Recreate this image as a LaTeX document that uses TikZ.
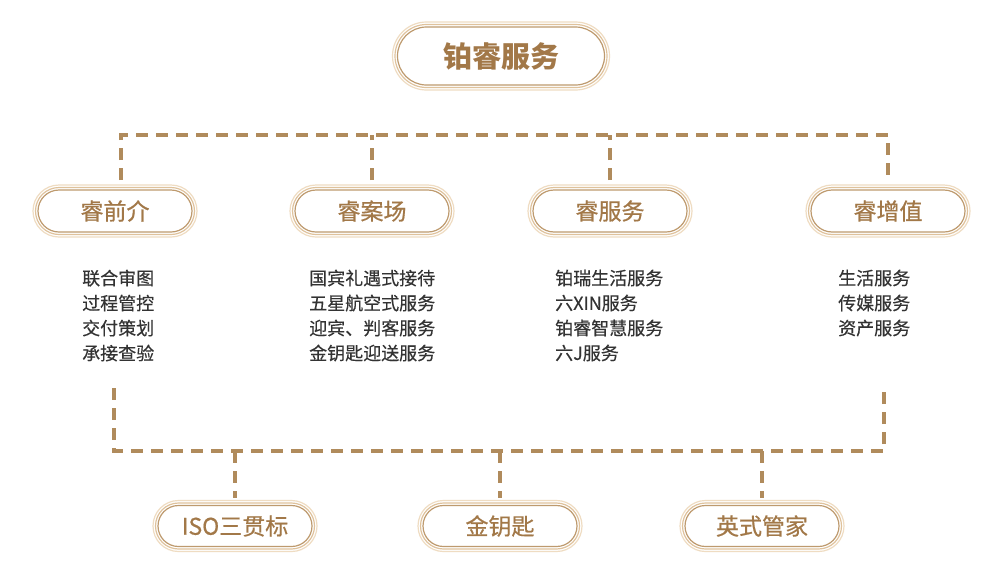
\documentclass[tikz,border=0pt]{standalone}
\usepackage{fontspec}
\setmainfont{Noto Sans CJK SC}
\newfontfamily\medfont{Noto Sans CJK SC}[FakeBold=0.6]
\newfontfamily\lstfont{Noto Sans CJK SC}[FakeBold=0.3]
\definecolor{gold}{HTML}{B08B5C}
\definecolor{labelc}{HTML}{A27848}
\definecolor{ringin}{HTML}{BE9A6E}
\definecolor{ringmid}{HTML}{DFC29C}
\definecolor{ringout}{HTML}{EFDCC2}
\definecolor{listc}{HTML}{333333}
\tikzset{
  pilltext/.style={inner sep=0pt, outer sep=0pt, text=labelc},
  ringA/.style={draw=ringin, line width=1.2pt},
  ringB/.style={draw=ringmid, line width=1.2pt},
  ringC/.style={draw=ringout, line width=1.2pt},
  dl/.style={draw=gold, line width=3.2pt, dash pattern=on 12pt off 8pt},
  listtxt/.style={inner sep=0pt, align=left, text=listc, font=\lstfont\fontsize{18}{25}\selectfont, anchor=north west}
}
\newcommand\pillnode[7]{%
  \node[pilltext, minimum width={#4-10}, minimum height={#5-10}, font=#6] (#1) at (#2,#3) {#7};
  \draw[ringA, rounded corners={(#5-10)/2}] (#1.south west) rectangle (#1.north east);
  \draw[ringB, rounded corners={(#5-5)/2}] ([xshift=-2.5pt,yshift=-2.5pt]#1.south west) rectangle ([xshift=2.5pt,yshift=2.5pt]#1.north east);
  \draw[ringC, rounded corners={#5/2}] ([xshift=-5pt,yshift=-5pt]#1.south west) rectangle ([xshift=5pt,yshift=5pt]#1.north east);
}
\begin{document}
\begin{tikzpicture}[x=1pt,y=-1pt]
\useasboundingbox[fill=white] (0,0) rectangle (1000,573);
% top
\pillnode{top}{501}{56}{217}{68}{\fontsize{29}{32}\selectfont\bfseries}{铂睿服务}
% level 2
\pillnode{b1}{115}{211}{164}{52}{\medfont\fontsize{23}{26}\selectfont}{睿前介}
\pillnode{b2}{372}{211}{164}{52}{\medfont\fontsize{23}{26}\selectfont}{睿案场}
\pillnode{b3}{610}{211}{164}{52}{\medfont\fontsize{23}{26}\selectfont}{睿服务}
\pillnode{b4}{888}{211}{164}{52}{\medfont\fontsize{23}{26}\selectfont}{睿增值}
% bottom
\pillnode{c1}{235}{526}{164}{51}{\medfont\fontsize{23}{26}\selectfont}{ISO三贯标}
\pillnode{c2}{500}{526}{164}{51}{\medfont\fontsize{23}{26}\selectfont}{金钥匙}
\pillnode{c3}{762}{526}{164}{51}{\medfont\fontsize{23}{26}\selectfont}{英式管家}
% lists
\node[listtxt] (l1) at (82,269.5) {联合审图\\过程管控\\交付策划\\承接查验};
\node[listtxt] (l2) at (309,269.5) {国宾礼遇式接待\\五星航空式服务\\迎宾、判客服务\\金钥匙迎送服务};
\node[listtxt] (l3) at (555,269.5) {铂瑞生活服务\\六XIN服务\\铂睿智慧服务\\六J服务};
\node[listtxt] (l4) at (838,269.5) {生活服务\\传媒服务\\资产服务};
% top connectors
\coordinate (tl) at (121,135);
\coordinate (bl) at (114,388);
\coordinate (br) at (884,388);
\coordinate (hb) at (114,451);
\draw[dl, shorten <=10pt, shorten >=10pt] ([xshift=6pt]b1.north) -- ([xshift=6pt]b1.north |- tl) -- (b4.north |- tl) -- (b4.north);
\draw[dl, shorten <=10pt] (b2.north) -- (b2.north |- tl);
\draw[dl, shorten <=10pt] (b3.north) -- (b3.north |- tl);
% bottom connectors
\draw[dl] (bl) -- (hb) -- (br |- hb) -- (br);
\draw[dl, shorten >=8pt] (c1.north |- hb) -- (c1.north);
\draw[dl, shorten >=8pt] (c2.north |- hb) -- (c2.north);
\draw[dl, shorten >=8pt] (c3.north |- hb) -- (c3.north);
\end{tikzpicture}
\end{document}
